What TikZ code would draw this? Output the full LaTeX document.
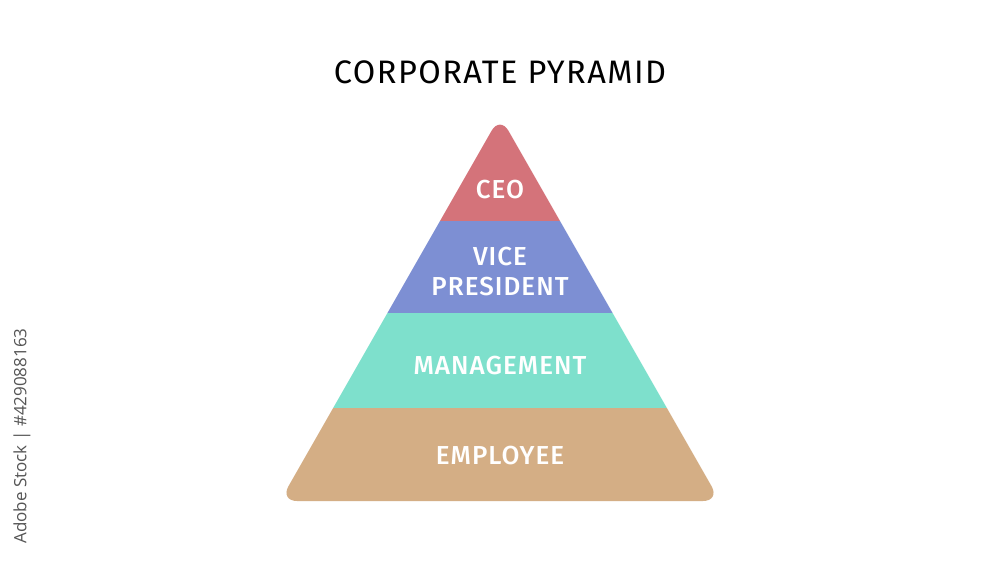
\documentclass[tikz,border=0pt]{standalone}
\usepackage{fontspec}
\setmainfont{Fira Sans}
\newfontfamily\lblfont{Fira Sans Medium}
\newfontfamily\wmfont{Open Sans}
\definecolor{ceoC}{HTML}{D4737A}
\definecolor{vpC}{HTML}{7D8FD3}
\definecolor{mgC}{HTML}{7EE0CC}
\definecolor{emC}{HTML}{D4AE85}
\definecolor{wmC}{HTML}{555555}
\begin{document}
\begin{tikzpicture}[x=1pt,y=-1pt,
  lbl/.style={text=white,font=\lblfont\fontsize{26}{30}\selectfont\addfontfeature{LetterSpace=4},align=center,inner sep=0pt},
  ttl/.style={text=black,font=\fontsize{32.5}{36}\selectfont\addfontfeature{LetterSpace=4.5},inner sep=0pt}]
\useasboundingbox (0,0) rectangle (1000,563);
\fill[white] (0,0) rectangle (1000,563);
\begin{scope}
  \clip[rounded corners=17pt] (500,116) -- (720,501) -- (280,501) -- cycle;
  \fill[ceoC] (250,100) rectangle (750,221);
  \fill[vpC] (250,221) rectangle (750,313);
  \fill[mgC] (250,313) rectangle (750,408);
  \fill[emC] (250,408) rectangle (750,510);
\end{scope}
\node[ttl] (title) at (500,72) {CORPORATE PYRAMID};
\node[lbl] (ceo) at (500,190) {CEO};
\node[lbl] (vp) at (500,272) {VICE\\PRESIDENT};
\node[lbl] (mg) at (500,366) {MANAGEMENT};
\node[lbl] (em) at (500,456) {EMPLOYEE};
\node[text=wmC,font=\wmfont\fontsize{17}{19}\selectfont,rotate=90,inner sep=0pt] (wm) at (22,436) {Adobe Stock | \#429088163};
\end{tikzpicture}
\end{document}
